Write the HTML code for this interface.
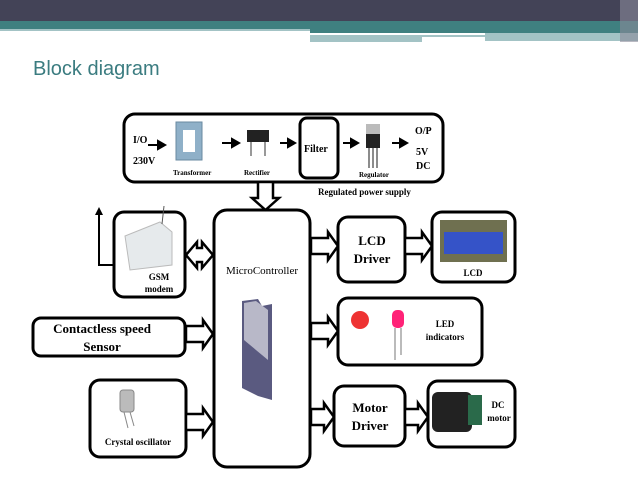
<!DOCTYPE html>
<html><head><meta charset="utf-8"><style>
body{margin:0;width:638px;height:478px;overflow:hidden;background:#fff}
svg{display:block}
.b{font-family:"Liberation Serif",serif;font-weight:bold;fill:#000}
</style></head><body>
<svg width="638" height="478" viewBox="0 0 638 478" xmlns="http://www.w3.org/2000/svg">
<rect x="0" y="0" width="638" height="21" fill="#434357"/>
<rect x="0" y="21" width="638" height="8" fill="#3f8080"/>
<rect x="0" y="29" width="310" height="2" fill="#a3c3c5"/>
<rect x="310" y="29" width="328" height="4" fill="#3f8080"/>
<rect x="310" y="35" width="175" height="2" fill="#a3c3c5"/>
<rect x="485" y="33" width="153" height="8" fill="#a3c3c5"/>
<rect x="310" y="37" width="112" height="5" fill="#a3c3c5"/>
<rect x="620" y="0" width="18" height="42" fill="#8a8a9a" opacity="0.6"/>
<text x="33" y="75" font-family="'Comic Sans MS','Liberation Sans',sans-serif" font-size="20" fill="#3b7c80">Block diagram</text>

<g fill="none" stroke="#000" stroke-width="3">
<rect x="124" y="114" width="319" height="68" rx="11"/>
<rect x="300" y="118" width="38" height="60" rx="7"/>
<rect x="214" y="210" width="96" height="257" rx="13"/>
<rect x="114" y="212" width="71" height="85" rx="10"/>
<rect x="33" y="318" width="152" height="38" rx="8"/>
<rect x="90" y="380" width="96" height="77" rx="10"/>
<rect x="338" y="217" width="67" height="65" rx="10"/>
<rect x="432" y="212" width="83" height="70" rx="10"/>
<rect x="338" y="298" width="144" height="67" rx="10"/>
<rect x="334" y="386" width="71" height="60" rx="10"/>
<rect x="428" y="381" width="87" height="66" rx="10"/>
<polyline points="114,265 99,265 99,214" stroke-width="2"/>
</g>
<polygon points="99,207 95,215 103,215" fill="#000"/>

<!-- small arrows in power box -->
<g stroke="#000" stroke-width="2" fill="#000">
<line x1="148" y1="145" x2="160" y2="145"/><polygon points="165,145 158,141 158,149"/>
<line x1="222" y1="143" x2="234" y2="143"/><polygon points="239,143 232,139 232,147"/>
<line x1="280" y1="143" x2="290" y2="143"/><polygon points="295,143 288,139 288,147"/>
<line x1="343" y1="143" x2="353" y2="143"/><polygon points="358,143 351,139 351,147"/>
<line x1="392" y1="143" x2="402" y2="143"/><polygon points="407,143 400,139 400,147"/>
</g>

<!-- block arrows -->
<g fill="#fff" stroke="#000" stroke-width="2.5" stroke-linejoin="miter">
<polygon points="258,182 273,182 273,198 279,198 265.5,210 252,198 258,198"/>
<polygon points="197,248 202,248 202,242 213,255 202,268 202,262 197,262 197,268 186,255 197,242"/>
<polygon points="186,326 203,326 203,320 213,334 203,348 203,342 186,342"/>
<polygon points="186,414 203,414 203,408 213,422 203,436 203,430 186,430"/>
<polygon points="311,238 328,238 328,232 338,246 328,260 328,254 311,254"/>
<polygon points="405,238 422,238 422,232 432,246 422,260 422,254 405,254"/>
<polygon points="311,323 328,323 328,317 338,331 328,345 328,339 311,339"/>
<polygon points="311,409 324,409 324,403 334,417 324,431 324,425 311,425"/>
<polygon points="405,409 418,409 418,403 428,417 418,431 418,425 405,425"/>
</g>

<!-- images approximations -->
<rect x="176" y="122" width="26" height="38" fill="#8fb0c8" stroke="#6a8aa0"/>
<rect x="183" y="130" width="12" height="22" fill="#fff"/>
<rect x="247" y="130" width="22" height="12" fill="#222"/>
<g stroke="#555" stroke-width="1.2"><line x1="251" y1="142" x2="251" y2="156"/><line x1="265" y1="142" x2="265" y2="156"/></g>
<rect x="366" y="124" width="14" height="10" fill="#bbb"/><rect x="366" y="134" width="14" height="14" fill="#222"/>
<g stroke="#666" stroke-width="1.5"><line x1="369" y1="148" x2="369" y2="168"/><line x1="373" y1="148" x2="373" y2="168"/><line x1="377" y1="148" x2="377" y2="168"/></g>
<polygon points="125,236 160,222 172,232 172,265 130,270" fill="#e6eaec" stroke="#bbb"/>
<line x1="162" y1="224" x2="164" y2="206" stroke="#555"/>
<rect x="440" y="220" width="67" height="42" fill="#6f7050"/><rect x="444" y="232" width="59" height="22" fill="#3553c8"/>
<polygon points="242,301 258,299 262,306 272,304 272,400 258,396 242,388" fill="#5a5a80"/>
<polygon points="244,303 256,301 268,310 268,360 244,340" fill="#b8b8c8"/>
<circle cx="360" cy="320" r="9" fill="#e33"/>
<rect x="392" y="310" width="12" height="18" rx="5" fill="#f27"/>
<g stroke="#777"><line x1="395" y1="328" x2="395" y2="360"/><line x1="401" y1="328" x2="401" y2="355"/></g>
<rect x="120" y="390" width="14" height="22" rx="3" fill="#bbb" stroke="#888"/>
<g stroke="#888"><line x1="124" y1="412" x2="128" y2="428"/><line x1="130" y1="412" x2="134" y2="426"/></g>
<rect x="432" y="392" width="40" height="40" rx="6" fill="#222"/><rect x="468" y="395" width="14" height="30" fill="#2a6a4a"/>

<!-- text -->
<g class="b" font-size="10">
<text x="133" y="143">I/O</text><text x="133" y="164">230V</text>
<text x="415" y="134">O/P</text><text x="416" y="155">5V</text><text x="416" y="169">DC</text>
<text x="304" y="152" font-size="10">Filter</text>
</g>
<g class="b" font-size="7">
<text x="173" y="175">Transformer</text><text x="244" y="175">Rectifier</text><text x="359" y="177">Regulator</text>
</g>
<text class="b" x="318" y="195" font-size="9">Regulated power supply</text>
<text x="262" y="274" text-anchor="middle" font-family="'Liberation Serif',serif" font-size="11">MicroController</text>
<g class="b" text-anchor="middle">
<text x="159" y="280" font-size="9">GSM</text><text x="159" y="292" font-size="9">modem</text>
<text x="102" y="333" font-size="13">Contactless speed</text><text x="102" y="351" font-size="13">Sensor</text>
<text x="138" y="445" font-size="9">Crystal oscillator</text>
<text x="372" y="245" font-size="13">LCD</text><text x="372" y="263" font-size="13">Driver</text>
<text x="473" y="276" font-size="9">LCD</text>
<text x="445" y="327" font-size="9">LED</text><text x="445" y="340" font-size="9">indicators</text>
<text x="370" y="412" font-size="13">Motor</text><text x="370" y="430" font-size="13">Driver</text>
<text x="498" y="408" font-size="9">DC</text><text x="499" y="421" font-size="9">motor</text>
</g>
</svg>
</body></html>
